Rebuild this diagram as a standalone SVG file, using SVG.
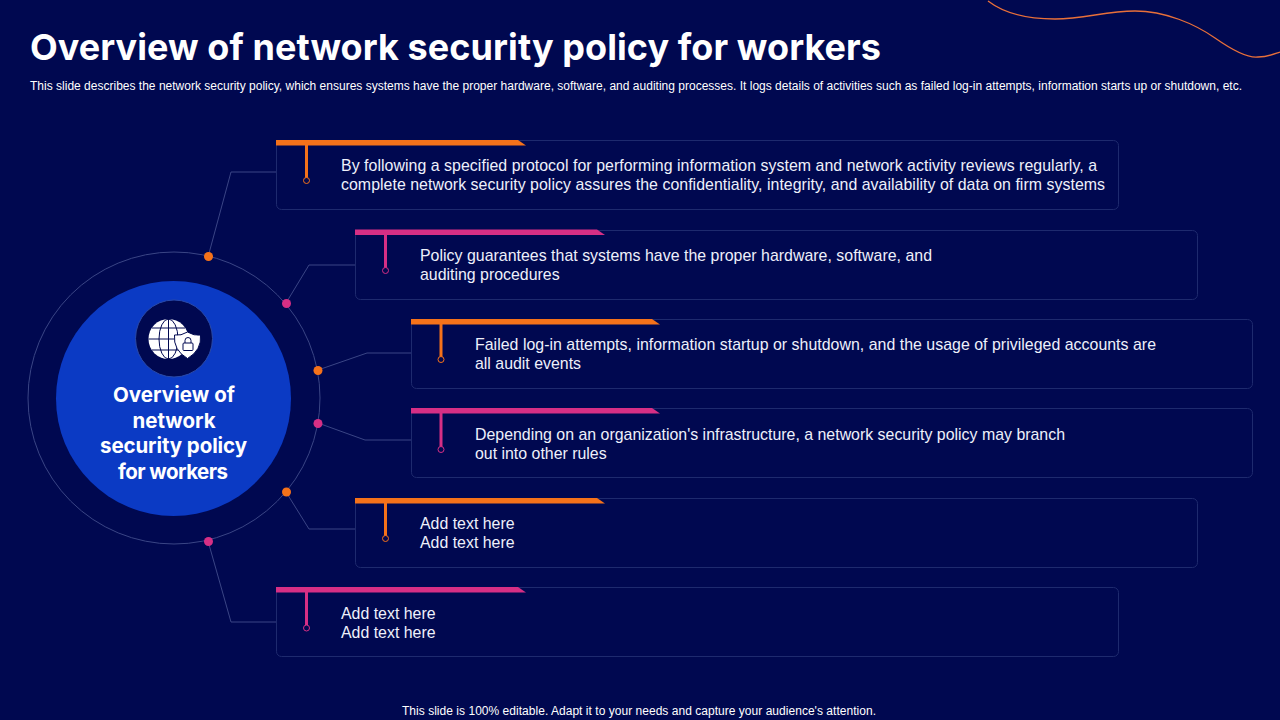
<svg xmlns="http://www.w3.org/2000/svg" width="1280" height="720" viewBox="0 0 1280 720">
<style>
text{font-family:"Liberation Sans",Arial,sans-serif;fill:#fff}
.b{font-size:15.900px;fill:#eef0fb}
.card{fill:#000850;stroke:#1e2a6e;stroke-width:1}
.line{fill:none;stroke:#3a4585;stroke-width:1}
.c{font-family:Inter,"Liberation Sans",sans-serif;font-size:20.500px;font-weight:700;text-anchor:middle}
.o{fill:#f5721a}.p{fill:#d62f85}
.os{stroke:#f5721a}.ps{stroke:#d62f85}
</style>
<rect width="1280" height="720" fill="#000850"/>
<path d="M988 1C1005 14 1030 19 1055 19C1085 19 1105 11 1135 11C1165 11 1195 24 1215 38C1235 52 1250 58 1258 57C1268 57 1274 54 1280 52" fill="none" stroke="#e8703a" stroke-width="1.300"/>
<text x="30" y="60" style="font-family:Inter,sans-serif" font-size="36" font-weight="700" textLength="851">Overview of network security policy for workers</text>
<text x="30" y="90" font-size="12" textLength="1212">This slide describes the network security policy, which ensures systems have the proper hardware, software, and auditing processes. It logs details of activities such as failed log-in attempts, information starts up or shutdown, etc.</text>
<g id="connectors">
<circle class="line" cx="174" cy="398" r="146"/>
<path class="line" d="M208 257L231 172H277"/>
<path class="line" d="M286 303L309 265H356"/>
<path class="line" d="M318 370L367 353H412"/>
<path class="line" d="M318 423L365 440H412"/>
<path class="line" d="M286 492L309 529H356"/>
<path class="line" d="M208 541L231 622H277"/>
<circle class="o" cx="208.500" cy="256.500" r="4.500"/>
<circle class="p" cx="286.500" cy="303.500" r="4.500"/>
<circle class="o" cx="318" cy="370.500" r="4.500"/>
<circle class="p" cx="318" cy="423.500" r="4.500"/>
<circle class="o" cx="286.500" cy="492" r="4.500"/>
<circle class="p" cx="208.500" cy="541.500" r="4.500"/>
</g>
<g id="center">
<circle cx="173.500" cy="398.500" r="117.500" fill="#0b3ac4"/>
<circle cx="174" cy="338.500" r="38.500" fill="#000850" stroke="#2a4aa8"/>
<circle cx="168.500" cy="339" r="20" fill="#fff"/>
<g fill="none" stroke="#000850" stroke-width="1"><ellipse cx="168.500" cy="339" rx="9.500" ry="20"/><path d="M168.500 319V359M148.500 339H188.500M152 328H185M152 350H185"/></g>
<path d="M187.500 332Q194 336 200.500 335Q202 350 187.500 358.500Q173 350 174.500 335Q181 336 187.500 332Z" fill="#fff" stroke="#000850"/>
<rect x="183" y="343" width="10" height="7.500" rx="1" fill="none" stroke="#000850"/>
<path d="M185 343V340.500A3 3 0 0 1 191 340.500V343" fill="none" stroke="#000850"/>
<text class="c" x="174" y="402" textLength="122">Overview of</text>
<text class="c" x="174" y="428">network</text>
<text class="c" x="173.500" y="453" textLength="147">security policy</text>
<text class="c" x="173" y="479" textLength="110">for workers</text>
</g>
<g id="card1">
<rect class="card" x="276.500" y="140.500" width="842" height="69" rx="5"/>
<path class="o" d="M276 140H518L526 145.500H276Z"/>
<path class="os" d="M306.500 144V178" stroke-width="3"/>
<circle cx="306.500" cy="180.500" r="3" fill="#000850" stroke="#f5721a"/>
<text class="b" x="341" y="171" textLength="756">By following a specified protocol for performing information system and network activity reviews regularly, a</text>
<text class="b" x="341" y="190" textLength="764">complete network security policy assures the confidentiality, integrity, and availability of data on firm systems</text>
</g>
<g id="card2">
<rect class="card" x="355.500" y="230.500" width="842" height="69" rx="5"/>
<path class="p" d="M355 229.500H597L605 235H355Z"/>
<path class="ps" d="M385.500 234V268" stroke-width="3"/>
<circle cx="385.500" cy="270.500" r="3" fill="#000850" stroke="#d62f85"/>
<text class="b" x="420" y="261" textLength="512">Policy guarantees that systems have the proper hardware, software, and</text>
<text class="b" x="420" y="280">auditing procedures</text>
</g>
<g id="card3">
<rect class="card" x="411.500" y="319.500" width="841" height="69" rx="5"/>
<path class="o" d="M411 319H652L660 324.500H411Z"/>
<path class="os" d="M441 323V357" stroke-width="3"/>
<circle cx="441" cy="359.500" r="3" fill="#000850" stroke="#f5721a"/>
<text class="b" x="475" y="350" textLength="681">Failed log-in attempts, information startup or shutdown, and the usage of privileged accounts are</text>
<text class="b" x="475" y="369">all audit events</text>
</g>
<g id="card4">
<rect class="card" x="411.500" y="408.500" width="841" height="69" rx="5"/>
<path class="p" d="M411 408H652L660 413.500H411Z"/>
<path class="ps" d="M441 412V447" stroke-width="3"/>
<circle cx="441" cy="449.500" r="3" fill="#000850" stroke="#d62f85"/>
<text class="b" x="475" y="440" textLength="590">Depending on an organization's infrastructure, a network security policy may branch</text>
<text class="b" x="475" y="459">out into other rules</text>
</g>
<g id="card5">
<rect class="card" x="355.500" y="498.500" width="842" height="69" rx="5"/>
<path class="o" d="M355 498H597L605 503.500H355Z"/>
<path class="os" d="M385.500 502V536" stroke-width="3"/>
<circle cx="385.500" cy="538.500" r="3" fill="#000850" stroke="#f5721a"/>
<text class="b" x="420" y="529">Add text here</text>
<text class="b" x="420" y="548">Add text here</text>
</g>
<g id="card6">
<rect class="card" x="276.500" y="587.500" width="842" height="69" rx="5"/>
<path class="p" d="M276 587H518L526 592.500H276Z"/>
<path class="ps" d="M306.500 591V626" stroke-width="3"/>
<circle cx="306.500" cy="628" r="3" fill="#000850" stroke="#d62f85"/>
<text class="b" x="341" y="619">Add text here</text>
<text class="b" x="341" y="638">Add text here</text>
</g>
<text x="402" y="715" font-size="12" textLength="474">This slide is 100% editable. Adapt it to your needs and capture your audience's attention.</text>
</svg>
